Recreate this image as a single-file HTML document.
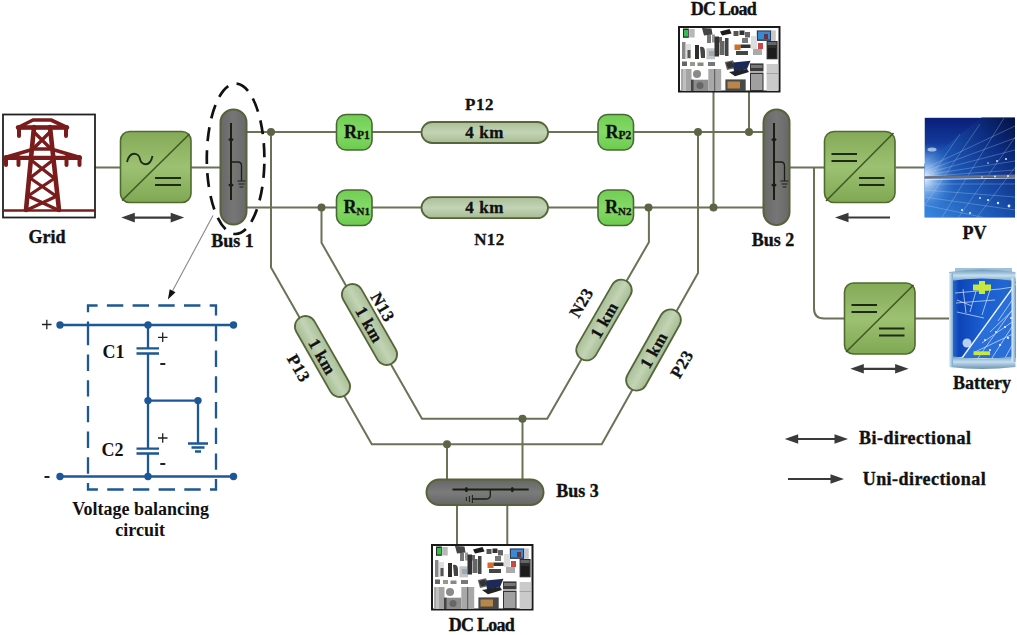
<!DOCTYPE html>
<html><head><meta charset="utf-8">
<style>
html,body{margin:0;padding:0;background:#fff;width:1017px;height:635px;overflow:hidden}
svg{display:block}
text{font-family:"Liberation Serif",serif;font-weight:bold;fill:#111}
.cb{stroke:#111;stroke-width:0.35}
.tb{stroke:#111;stroke-width:0.3}
</style></head>
<body>
<svg width="1017" height="635" viewBox="0 0 1017 635">
<defs>
<linearGradient id="gConv" x1="0" y1="0" x2="0" y2="1">
<stop offset="0" stop-color="#84aa58"/><stop offset="0.5" stop-color="#9cc172"/><stop offset="1" stop-color="#80a853"/>
</linearGradient>
<linearGradient id="gBus" x1="0" y1="0" x2="1" y2="0">
<stop offset="0" stop-color="#686868"/><stop offset="0.5" stop-color="#767676"/><stop offset="1" stop-color="#686868"/>
</linearGradient>
<linearGradient id="gBusH" x1="0" y1="0" x2="0" y2="1">
<stop offset="0" stop-color="#666"/><stop offset="0.5" stop-color="#7b7b7b"/><stop offset="1" stop-color="#666"/>
</linearGradient>
<linearGradient id="gR" x1="0" y1="0" x2="0" y2="1">
<stop offset="0" stop-color="#70cd52"/><stop offset="0.5" stop-color="#84da68"/><stop offset="1" stop-color="#6ccb4e"/>
</linearGradient>
<linearGradient id="gPill" x1="0" y1="0" x2="0" y2="1">
<stop offset="0" stop-color="#a9bf98"/><stop offset="0.5" stop-color="#c3d4b5"/><stop offset="1" stop-color="#a5bc93"/>
</linearGradient>
<linearGradient id="gPV" x1="0" y1="0" x2="1" y2="1">
<stop offset="0" stop-color="#0c2f8a"/><stop offset="0.45" stop-color="#1a5ab8"/><stop offset="0.7" stop-color="#164a9e"/><stop offset="1" stop-color="#0a2a66"/>
</linearGradient>
<radialGradient id="gPVglow" cx="0.0" cy="0.6" r="0.35">
<stop offset="0" stop-color="#ffffff" stop-opacity="0.95"/><stop offset="0.4" stop-color="#b8dcff" stop-opacity="0.55"/><stop offset="1" stop-color="#3a7ad0" stop-opacity="0"/>
</radialGradient>
<linearGradient id="gSky" x1="0" y1="0" x2="0" y2="1">
<stop offset="0" stop-color="#0a1e78"/><stop offset="0.25" stop-color="#123a9a"/><stop offset="0.5" stop-color="#3a86da"/><stop offset="1" stop-color="#6ab0f0"/>
</linearGradient>
<linearGradient id="gPanel" x1="0" y1="1" x2="1" y2="0">
<stop offset="0" stop-color="#3a88e0"/><stop offset="0.45" stop-color="#1a52b0"/><stop offset="0.75" stop-color="#0c2c80"/><stop offset="1" stop-color="#050f40"/>
</linearGradient>
<linearGradient id="gRing" x1="0" y1="0" x2="0" y2="1">
<stop offset="0" stop-color="#6a98bc"/><stop offset="0.45" stop-color="#c4deee"/><stop offset="1" stop-color="#6a92b4"/>
</linearGradient>
<linearGradient id="gSide" x1="0" y1="0" x2="1" y2="0">
<stop offset="0" stop-color="#e8f2fa"/><stop offset="1" stop-color="#7aa8d0"/>
</linearGradient>
<linearGradient id="gBat" x1="0" y1="0" x2="1" y2="0">
<stop offset="0" stop-color="#3a80d8"/><stop offset="0.15" stop-color="#0d44b8"/><stop offset="0.5" stop-color="#1a5ed0"/><stop offset="0.85" stop-color="#2266d0"/><stop offset="1" stop-color="#2a60b0"/>
</linearGradient>
<filter id="blr" x="-5%" y="-5%" width="110%" height="110%"><feGaussianBlur stdDeviation="0.35"/></filter>
<marker id="ah" viewBox="0 0 10 10" refX="9" refY="5" markerWidth="5" markerHeight="5" orient="auto-start-reverse">
<path d="M0,0 L10,5 L0,10 L2.5,5 Z" fill="#3a3a3a"/>
</marker>
</defs>

<!-- ===== wires ===== -->
<g fill="none" stroke="#6a7257" stroke-width="2">
<!-- grid to conv to bus1 -->
<path d="M95,167.5 H120 M191,167.5 H220"/>
<!-- P and N lines -->
<path d="M246.5,132 H763 M246.5,207.5 H763"/>
<!-- P13/P23 loop -->
<path d="M271,132 V267.6 L371.8,444.3 H601.7 L698,273 V132"/>
<!-- N13/N23 loop -->
<path d="M321.5,207.5 V242.7 L422,418.8 H547.2 L648.9,242.2 V207.5"/>
<!-- bus3 -->
<path d="M447,444.3 V479 M522.5,418.8 V479 M457,505 V544 M507.3,505 V544"/>
<!-- dc load top -->
<path d="M713.5,92 V207.5 M749,92 V132"/>
<!-- bus2 right -->
<path d="M790,167.5 H824 M895.5,167.5 H925"/>
<path d="M814,167.5 V308.5 Q814,318.5 824,318.5 H844 M915,318.5 H949"/>
</g>
<g fill="#5b6546">
<circle cx="271" cy="132" r="4"/><circle cx="321.5" cy="207.5" r="4"/>
<circle cx="648.5" cy="207.5" r="4"/><circle cx="698" cy="132" r="4"/>
<circle cx="713.5" cy="207.5" r="4"/><circle cx="749" cy="132" r="4"/>
<circle cx="447" cy="444.3" r="4"/><circle cx="522.5" cy="418.8" r="4"/>
</g>

<!-- ===== Grid box ===== -->
<rect x="3" y="114.5" width="92" height="103" fill="#fff" stroke="#222" stroke-width="1.8"/>
<g stroke="#7a1c1c" fill="none" stroke-width="4" stroke-linejoin="round" stroke-linecap="round">
<path d="M3,210.5 H95" stroke-width="2.5" stroke-linecap="butt"/>
<path d="M33,120 H51 L67,127.5 H18 Z" stroke-width="3.6"/>
<path d="M18,127.5 H67" stroke-width="4.5"/>
<path d="M19,127 V136 M66,127 V136"/>
<path d="M34,127 L26,210 M50,127 L59,210" stroke-width="4.6"/>
<path d="M5,157.5 L34,149 H51 L80,157.5 Z" stroke-width="3.6"/><path d="M5,158 H80" stroke-width="4"/>
<path d="M6,157 V165 M18.5,157 V165 M66.5,157 V165 M79.5,157 V165"/>
<path d="M34,132 L50,148 M50,132 L34,148" stroke-width="3.3"/>
<path d="M31,160 L54,178 M53,160 L30,178 M30,178 L56,196 M55,178 L28,196 M28,196 L58,210 M57,196 L27,210" stroke-width="3.3"/>
</g>

<!-- ===== Converter 1 ===== -->
<g>
<rect x="120.5" y="131.5" width="70.5" height="71" rx="9" fill="url(#gConv)" stroke="#4f6b30" stroke-width="1.6"/>
<path d="M122,200.5 L189.5,134" stroke="#3f5a25" stroke-width="1.6"/>
<path d="M127,162 C130,150 139,153 140,159 C141,165 150,168 152.5,156" fill="none" stroke="#1f2a15" stroke-width="1.8"/>
<path d="M155,178 H181 M155,185 H181" stroke="#1f2a15" stroke-width="1.8"/>
</g>
<path d="M133.8,217.6 H171.7" stroke="#3a3a3a" stroke-width="2.2"/><path d="M121.3,217.6 L134.8,212.79999999999998 V222.4 Z" fill="#3a3a3a"/><path d="M184.2,217.6 L170.7,212.79999999999998 V222.4 Z" fill="#3a3a3a"/>

<!-- ===== Bus 1 ===== -->
<rect x="220.5" y="109.5" width="26" height="115" rx="13" fill="url(#gBus)" stroke="#56633a" stroke-width="2"/>
<g stroke="#1a2010" fill="none" stroke-width="2">
<path d="M231,123 V200"/><ellipse cx="231" cy="139.5" rx="2.6" ry="1.6" fill="#1a2010" stroke="none"/><ellipse cx="231" cy="185" rx="2.6" ry="1.6" fill="#1a2010" stroke="none"/>
<path d="M231,162 H238 Q241.5,162 241.5,166 V181" stroke-width="1.3"/>
<path d="M237.5,181 H245.5 M238.5,184 H244.5 M239.5,187 H243.5" stroke-width="1"/>
</g>
<ellipse cx="235.6" cy="158.8" rx="28.8" ry="75.2" fill="none" stroke="#111" stroke-width="2.7" stroke-dasharray="14,9" stroke-dashoffset="-5"/>
<path d="M213,215.5 L172.6,290.8" stroke="#888" stroke-width="1.1"/><path d="M167.9,299.6 L169.7,289.3 L175.5,292.3 Z" fill="#111"/>

<!-- ===== R boxes ===== -->
<g stroke="#4a6835" stroke-width="1.6" fill="url(#gR)">
<rect x="336.5" y="114.5" width="35.5" height="35.5" rx="9.5"/>
<rect x="336.5" y="190" width="35.5" height="35.5" rx="9.5"/>
<rect x="598" y="114.5" width="35.5" height="35.5" rx="9.5"/>
<rect x="598" y="190" width="35.5" height="35.5" rx="9.5"/>
</g>
<text x="344" y="137.5" font-size="18" class="tb">R<tspan font-size="11.5" dy="1.8">P1</tspan></text>
<text x="343.5" y="213" font-size="18" class="tb">R<tspan font-size="11" dy="1.8">N1</tspan></text>
<text x="605.5" y="137.5" font-size="18" class="tb">R<tspan font-size="11.5" dy="1.8">P2</tspan></text>
<text x="605" y="213" font-size="18" class="tb">R<tspan font-size="11" dy="1.8">N2</tspan></text>

<!-- ===== pills ===== -->
<g stroke="#56663a" stroke-width="1.8" fill="url(#gPill)">
<rect x="421.5" y="122" width="126.5" height="21" rx="10.5"/>
<rect x="421.5" y="197.2" width="126.5" height="21" rx="10.5"/>
</g>
<text x="484.7" y="137.5" font-size="17" text-anchor="middle" letter-spacing="0.6" class="tb">4 km</text>
<text x="484.7" y="212.7" font-size="17" text-anchor="middle" letter-spacing="0.6" class="tb">4 km</text>
<text x="479.6" y="109.7" font-size="17" text-anchor="middle" letter-spacing="0.6" class="tb">P12</text>
<text x="489.4" y="245" font-size="17" text-anchor="middle" letter-spacing="0.4" class="tb">N12</text>

<!-- diagonal pills -->
<g stroke="#56663a" stroke-width="1.8" fill="url(#gPill)">
<rect x="-45" y="-10.5" width="90" height="21" rx="10.5" transform="translate(322.5,356.5) rotate(60.3)"/>
<rect x="-45" y="-10.5" width="90" height="21" rx="10.5" transform="translate(369.5,324.5) rotate(60.3)"/>
<rect x="-45" y="-10.5" width="90" height="21" rx="10.5" transform="translate(604,320) rotate(-60)"/>
<rect x="-45" y="-10.5" width="90" height="21" rx="10.5" transform="translate(653.5,350) rotate(-60.7)"/>
</g>
<text font-size="17" text-anchor="middle" transform="translate(322.5,356.5) rotate(60.3)" dy="6" letter-spacing="0.6" class="tb">1 km</text>
<text font-size="17" text-anchor="middle" transform="translate(369.5,324.5) rotate(60.3)" dy="6" letter-spacing="0.6" class="tb">1 km</text>
<text font-size="17" text-anchor="middle" transform="translate(604,320) rotate(-60)" dy="6" letter-spacing="0.6" class="tb">1 km</text>
<text font-size="17" text-anchor="middle" transform="translate(653.5,350) rotate(-60.7)" dy="6" letter-spacing="0.6" class="tb">1 km</text>
<text font-size="17" text-anchor="middle" transform="translate(383,307) rotate(60)" dy="6" letter-spacing="0.5" class="tb">N13</text>
<text font-size="17" text-anchor="middle" transform="translate(299,368) rotate(60)" dy="6" letter-spacing="0.5" class="tb">P13</text>
<text font-size="17" text-anchor="middle" transform="translate(581,302.5) rotate(-60)" dy="6" letter-spacing="0.5" class="tb">N23</text>
<text font-size="17" text-anchor="middle" transform="translate(681.6,364) rotate(-60)" dy="6" letter-spacing="0.5" class="tb">P23</text>

<!-- ===== Bus 3 ===== -->
<rect x="426.5" y="479.5" width="117" height="25.5" rx="12.75" fill="url(#gBusH)" stroke="#56633a" stroke-width="2"/>
<g stroke="#1a2010" fill="none" stroke-width="2">
<path d="M452.5,489.6 H528.7"/><ellipse cx="466.4" cy="489.6" rx="1.6" ry="2.6" fill="#1a2010" stroke="none"/><ellipse cx="512.3" cy="489.6" rx="1.6" ry="2.6" fill="#1a2010" stroke="none"/>
<path d="M490.3,489.6 V495 Q490.3,499 486.3,499 H472.4" stroke-width="1.3"/>
<path d="M472.4,495 V503 M469.4,496 V502 M466.4,497 V501" stroke-width="1"/>
</g>

<!-- ===== Bus 2 ===== -->
<rect x="763.5" y="109.5" width="26" height="115.5" rx="13" fill="url(#gBus)" stroke="#56633a" stroke-width="2"/>
<g stroke="#1a2010" fill="none" stroke-width="2">
<path d="M774,123 V200"/><ellipse cx="774" cy="139.5" rx="2.6" ry="1.6" fill="#1a2010" stroke="none"/><ellipse cx="774" cy="185" rx="2.6" ry="1.6" fill="#1a2010" stroke="none"/>
<path d="M774,162 H781 Q784.5,162 784.5,166 V181" stroke-width="1.3"/>
<path d="M780.5,181 H788.5 M781.5,184 H787.5 M782.5,187 H786.5" stroke-width="1"/>
</g>

<!-- ===== Converter 2 ===== -->
<g>
<rect x="824.5" y="131.5" width="70.5" height="71" rx="9.5" fill="url(#gConv)" stroke="#4f6b30" stroke-width="1.6"/>
<path d="M826,201 L893.5,133" stroke="#3f5a25" stroke-width="1.6"/>
<path d="M831.5,154 H857 M831.5,161 H857 M859,178 H884.5 M859,185 H884.5" stroke="#1f2a15" stroke-width="1.8"/>
</g>
<path d="M847.5,217.5 H890" stroke="#3a3a3a" stroke-width="2.2"/><path d="M835,217.5 L848.5,212.7 V222.3 Z" fill="#3a3a3a"/>

<!-- ===== Converter 3 ===== -->
<g>
<rect x="844.5" y="283" width="70.5" height="71" rx="9" fill="url(#gConv)" stroke="#4f6b30" stroke-width="1.6"/>
<path d="M846,352 L913.5,285" stroke="#3f5a25" stroke-width="1.6"/>
<path d="M851.5,305 H877 M851.5,312 H877 M879,328.5 H904.5 M879,335.5 H904.5" stroke="#1f2a15" stroke-width="1.8"/>
</g>
<path d="M862.8,368.8 H896.1" stroke="#3a3a3a" stroke-width="2.2"/><path d="M850.3,368.8 L863.8,364.0 V373.6 Z" fill="#3a3a3a"/><path d="M908.6,368.8 L895.1,364.0 V373.6 Z" fill="#3a3a3a"/>

<!-- legend -->
<path d="M797.2,439 H835.5" stroke="#3a3a3a" stroke-width="2.2"/><path d="M784.7,439 L798.2,434.2 V443.8 Z" fill="#3a3a3a"/><path d="M848,439 L834.5,434.2 V443.8 Z" fill="#3a3a3a"/>
<path d="M788,479 H831.5" stroke="#3a3a3a" stroke-width="2.2"/><path d="M844,479 L830.5,474.2 V483.8 Z" fill="#3a3a3a"/>
<text x="858.9" y="444.4" font-size="18" class="cb" letter-spacing="0.5">Bi-directional</text>
<text x="862.7" y="485" font-size="18" class="cb" letter-spacing="0.45">Uni-directional</text>

<!-- labels -->
<text x="47" y="243" font-size="18" text-anchor="middle" class="cb">Grid</text>
<text x="232.6" y="247" font-size="18" text-anchor="middle" class="cb">Bus 1</text>
<text x="773" y="245.8" font-size="18" text-anchor="middle" class="cb">Bus 2</text>
<text x="974.5" y="238.5" font-size="18" text-anchor="middle" class="cb">PV</text>
<text x="982" y="389.3" font-size="18" text-anchor="middle" class="cb">Battery</text>
<text x="577.5" y="497" font-size="18" text-anchor="middle" class="cb">Bus 3</text>
<text x="481.5" y="631" font-size="18" text-anchor="middle" class="cb" letter-spacing="-0.75">DC Load</text>
<text x="723.3" y="15" font-size="18" text-anchor="middle" class="cb" letter-spacing="-0.75">DC Load</text>

<!-- ===== voltage balancing circuit ===== -->
<path d="M88,330 V305.5 H216 V489.5 H88 Z" fill="none" stroke="#1d5797" stroke-width="2.3" stroke-dasharray="16.4,9.3" stroke-dashoffset="8"/>
<g stroke="#1d5797" stroke-width="2.3" fill="none">
<path d="M60,325 H233.5 M60,476.5 H233.5"/>
<path d="M148,325 V348.3 M136.5,348.3 H159 M136.5,353.5 H159 M148,353.5 V448.7 M136.5,448.7 H159 M136.5,453.5 H159 M148,453.5 V476.5"/>
<path d="M148,400.6 H198 V443.5 M188,443.5 H208 M191.5,447.5 H204.5 M195,451.5 H201" />
</g>
<g fill="#1d5797">
<circle cx="60" cy="325" r="3.7"/><circle cx="233.5" cy="325" r="3.7"/>
<circle cx="148" cy="325" r="3.7"/><circle cx="148" cy="400.6" r="3.7"/>
<circle cx="198" cy="400.6" r="3.7"/><circle cx="148" cy="476.5" r="3.7"/>
<circle cx="60" cy="476.5" r="3.7"/><circle cx="233.5" cy="476.5" r="3.7"/>
</g>
<text x="113.6" y="357.5" font-size="18" text-anchor="middle">C1</text>
<text x="112.5" y="455.5" font-size="18" text-anchor="middle">C2</text>
<g stroke="#222" stroke-width="1.3" fill="none">
<path d="M42,324.5 H51.5 M46.8,319.8 V329.2"/>
<path d="M158,337.3 H167.5 M162.7,332.6 V342"/>
<path d="M158,438 H167.5 M162.7,433.3 V442.7"/>
</g>
<g fill="#222">
<rect x="44.5" y="476" width="5" height="2"/>
<rect x="160.3" y="363" width="5" height="2"/>
<rect x="160.3" y="463" width="5" height="2"/>
</g>
<text x="140.6" y="515.2" font-size="18" text-anchor="middle">Voltage balancing</text>
<text x="140.2" y="536.4" font-size="18" text-anchor="middle">circuit</text>

<!-- ===== DC load images ===== -->
<g id="dcl">
<rect x="679" y="27" width="100.5" height="64.5" fill="#fff" stroke="#1a1a1a" stroke-width="2"/>
<g filter="url(#blr)">
<!-- top row -->
<rect x="683" y="28.5" width="5.8" height="9.3" fill="#2a2a2a"/>
<rect x="684" y="30" width="4" height="6.5" fill="#33c050"/>
<rect x="689.2" y="29" width="5.5" height="8.5" fill="#b8b8b8"/>
<path d="M702,28 L711.5,28.5 L712.5,34.5 L704,35.5 Z" fill="#444"/>
<path d="M720,31.5 L729.5,29 L731.6,33.5 L722,35.5 Z" fill="#1e1e1e"/>
<rect x="733.5" y="31" width="5" height="5" fill="#555"/>
<rect x="739.5" y="30.5" width="5" height="4.5" fill="#333"/>
<rect x="745" y="32" width="5" height="5.5" fill="#666"/>
<rect x="756.8" y="30.4" width="14.5" height="10.5" fill="#2a3a5a"/>
<rect x="758" y="31.5" width="12" height="8" fill="#3a8ad0"/>
<rect x="764" y="34" width="4" height="5" fill="#6a3040"/>
<rect x="771.5" y="30.4" width="4.3" height="10.5" fill="#c8c8c8"/>
<!-- middle band -->
<rect x="707" y="35" width="4" height="8" fill="#777"/>
<rect x="712" y="34.5" width="3" height="8" fill="#999"/>
<rect x="716" y="37" width="6" height="5.5" fill="#666"/>
<rect x="682" y="42" width="3.5" height="17" fill="#888"/>
<rect x="686" y="44" width="5" height="15" fill="#ddd"/>
<rect x="687.5" y="50" width="3" height="8" fill="#555"/>
<rect x="695" y="45" width="4" height="14" fill="#2e2e2e"/>
<path d="M700,47 Q705,46 705,52 V58 H701 Z" fill="#444"/>
<rect x="706.5" y="48.3" width="8.5" height="11" fill="#c4c4c4"/>
<rect x="709" y="51" width="5" height="5" fill="#9ab"/>
<rect x="714.5" y="36.5" width="4.5" height="20" fill="#333"/>
<rect x="719.5" y="41" width="5" height="14" fill="#666"/>
<rect x="725" y="38" width="3.5" height="18" fill="#444"/>
<rect x="734.5" y="44.5" width="6" height="5.5" fill="#d86a20"/>
<rect x="740.5" y="44.5" width="10" height="3.5" fill="#333"/>
<rect x="736" y="51" width="12" height="4" fill="#444"/>
<rect x="742" y="38" width="6" height="5" fill="#777"/>
<rect x="751" y="36" width="6" height="13" fill="#ddd"/>
<rect x="753" y="49" width="9" height="6" fill="#aaa"/>
<rect x="758" y="43" width="5" height="6" fill="#c44"/>
<rect x="766.6" y="41" width="11" height="18.3" fill="#2e2e2e"/>
<rect x="767.5" y="42" width="9" height="3" fill="#666"/>
<rect x="768" y="48" width="8" height="10" fill="#1a1a1a"/>
<!-- small row -->
<rect x="682" y="61.5" width="5" height="4.5" fill="#666"/>
<rect x="690" y="62" width="5" height="4" fill="#998"/>
<rect x="697.5" y="62.5" width="6" height="3.5" fill="#888"/>
<rect x="708" y="62" width="7" height="4" fill="#777"/>
<!-- laptops -->
<path d="M724.8,62 L733,60.3 L736,68 L727,70 Z" fill="#666"/>
<path d="M726,63 L732,61.5 L734,67 L728,68.5 Z" fill="#333"/>
<path d="M733,62.5 L750.5,60.8 L747,69 L734,72 Z" fill="#1e2a55"/>
<path d="M729,72 L747,69 L749,72 L735,76.3 Z" fill="#222"/>
<!-- bottom row -->
<rect x="681.1" y="69" width="10.4" height="22" fill="#a4a4a4"/>
<rect x="683" y="69" width="3" height="22" fill="#c0c0c0"/>
<circle cx="697" cy="74" r="4" fill="#8a8a8a"/>
<rect x="691" y="79.7" width="17.3" height="11.3" fill="#8c8c8c"/>
<rect x="691" y="79.7" width="2.5" height="11.3" fill="#444"/>
<circle cx="700" cy="85.5" r="3.5" fill="#666"/>
<rect x="708.3" y="69" width="12.9" height="22" fill="#a8a8a8"/>
<rect x="714.2" y="69" width="1" height="22" fill="#555"/>
<rect x="725.4" y="79.4" width="20.3" height="11.6" fill="#4a4a4a"/>
<rect x="727.5" y="81.5" width="12.5" height="7" fill="#b8864a"/>
<rect x="750" y="63.4" width="13.5" height="8" fill="#3a3a3a"/>
<rect x="751" y="65" width="11.5" height="3" fill="#777"/>
<rect x="750" y="72.6" width="13.5" height="18.4" fill="#333"/>
<rect x="751" y="74" width="11.5" height="16" fill="#a0a0a0"/>
<rect x="766.6" y="64" width="11.7" height="27" fill="#cacaca"/>
<rect x="766.6" y="73" width="11.7" height="0.8" fill="#999"/>
</g>
</g>
<use href="#dcl" transform="translate(-247,518)"/>

<!-- ===== PV ===== -->
<g>
<clipPath id="pvc"><rect x="924.5" y="117.6" width="90.5" height="100"/></clipPath>
<g clip-path="url(#pvc)">
<rect x="924.5" y="117.6" width="90.5" height="100" fill="url(#gSky)"/>
<path d="M924,164 L982,117 H1016 V218 H924 Z" fill="url(#gPanel)"/>
<rect x="924.5" y="117.6" width="90.5" height="100" fill="url(#gPVglow)"/>
<g stroke="#c0d4f0" stroke-opacity="0.38" stroke-width="0.8" fill="none">
<path d="M926,168 L1015,126 M926,171 L1015,138 M926,173 L1015,150 M926,175 L1015,161 M926,176.5 L1015,170"/>
<path d="M924,184 L1015,184 M924,190 L1015,197 M924,197 L1015,210 M924,205 L1015,224"/>
<path d="M941.5,218 L1004,118 M976.5,218 L1016,166 M924,206 L980,124 M924,186 L960,134 M958,218 L1016,136"/>
</g>
<path d="M924,177.5 L1015,175.8" stroke="#6a7080" stroke-width="2.6"/>
<path d="M924,179.6 L1015,178" stroke="#dde8f8" stroke-width="0.9"/>
<g fill="#fff" opacity="0.9">
<circle cx="1009" cy="206" r="1.4"/><circle cx="998" cy="203" r="1.2"/><circle cx="988" cy="200" r="1.1"/><circle cx="980" cy="198" r="0.9"/>
<circle cx="1006" cy="159" r="1"/><circle cx="997" cy="161" r="0.9"/><circle cx="988" cy="163" r="0.8"/>
<circle cx="1008" cy="176" r="1"/><circle cx="995" cy="176.5" r="0.9"/><circle cx="982" cy="177" r="0.8"/>
<circle cx="962" cy="210" r="1"/><circle cx="970" cy="213" r="1"/>
</g>
<ellipse cx="932" cy="149.5" rx="4.5" ry="2" fill="#c8dcf0" opacity="0.75"/>
</g>
</g>

<!-- ===== Battery ===== -->
<g>
<path d="M955,268 H1012 V275 H955 Z" fill="#9fc0d8"/>
<path d="M949,272 Q982,267 1015.5,272 V283 Q982,278 949,283 Z" fill="url(#gRing)"/>
<path d="M949,281 Q982,276 1015.5,281 V358 Q982,354 949,358 Z" fill="url(#gBat)"/>
<path d="M962,358 L1015.5,284 V358 Z" fill="#2a6ed8"/>
<g stroke="#dcefff" stroke-width="0.8" fill="none" opacity="0.85">
<path d="M975,352 L1015,333 M982,343 L1015,320 M990,332 L1015,308 M998,321 L1015,296 M992,358 L1015,322 M978,358 L1015,306 M1005,358 L1015,340"/>
<path d="M955,293 L1000,289 L1013,287 M956,303 L995,300 M957,312 L984,318 M976,291 L970,312 M990,290 L982,315 M963,289 L966,313 M957,300 L972,306"/>
</g>
<path d="M962,358 L1015.5,284" stroke="#eaf6ff" stroke-width="1.3"/>
<g fill="#fff" opacity="0.95">
<circle cx="1000" cy="345" r="1.1"/><circle cx="1008" cy="338" r="1.1"/><circle cx="1005" cy="327" r="1"/><circle cx="1011" cy="318" r="1"/><circle cx="990" cy="350" r="1"/><circle cx="985" cy="340" r="0.9"/><circle cx="996" cy="332" r="0.9"/>
</g>
<circle cx="967" cy="343" r="4.5" fill="#e0f0ff" opacity="0.8"/>
<path d="M949,356 Q982,361 1015.5,356 V367 Q982,371 949,367 Z" fill="url(#gRing)"/>
<rect x="949" y="273" width="4" height="94" fill="url(#gSide)"/>
<rect x="1011.5" y="278" width="4" height="84" fill="url(#gSide)"/>
<path d="M979,281 H985 V284.5 H991 V290.5 H985 V294 H979 V290.5 H973 V284.5 H979 Z" fill="#c8e83a"/>
<rect x="973.5" y="351.3" width="16.5" height="3.8" fill="#c8e83a"/>
</g>
</svg>
</body></html>
